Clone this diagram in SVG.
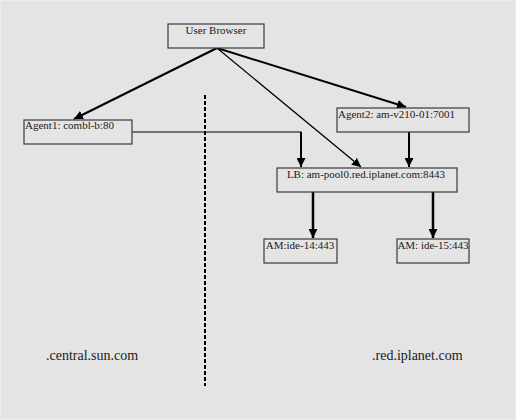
<svg xmlns="http://www.w3.org/2000/svg" width="516" height="420" viewBox="0 0 516 420">
<defs>
<style>
.box{fill:#e4e4e4;stroke:#3a3a3a;stroke-width:1.2}
.t{font-family:"Liberation Serif","Times New Roman",serif;font-size:11px;fill:#1a1a1a}
.lbl{font-family:"Liberation Serif","Times New Roman",serif;font-size:14px;fill:#1a1a1a}
.c{fill:none;stroke:#000}
</style>
<marker id="ah" viewBox="0 0 10 10" refX="10" refY="5" markerWidth="9" markerHeight="9" markerUnits="userSpaceOnUse" orient="auto">
<path d="M0,0 L10,5 L0,10 z" fill="#000"/>
</marker>
</defs>
<rect x="0" y="0" width="516" height="420" fill="#e4e4e4"/>
<rect x="0.5" y="0.5" width="515" height="419" fill="none" stroke="#ececec"/>

<line x1="205" y1="95" x2="205" y2="386" stroke="#000" stroke-width="2" stroke-dasharray="4,2"/>

<g id="connectors">
<line class="c" x1="217" y1="48" x2="74" y2="119" stroke-width="2" marker-end="url(#ah)"/>
<line class="c" x1="217" y1="48" x2="361" y2="167" stroke-width="1.3" marker-end="url(#ah)"/>
<line class="c" x1="217" y1="48" x2="406" y2="107" stroke-width="2" marker-end="url(#ah)"/>
<polyline class="c" points="132,132 301,132 301,136" stroke-width="1.1"/>
<line class="c" x1="301" y1="132" x2="301" y2="167" stroke-width="2" marker-end="url(#ah)"/>
<line class="c" x1="409" y1="132" x2="409" y2="167" stroke-width="2" marker-end="url(#ah)"/>
<line class="c" x1="313" y1="192" x2="313" y2="238" stroke-width="2.5" marker-end="url(#ah)"/>
<line class="c" x1="433" y1="192" x2="433" y2="238" stroke-width="2.5" marker-end="url(#ah)"/>
</g>

<g id="user-browser">
<rect class="box" x="168" y="24" width="96" height="24"/>
<text class="t" x="216" y="34" text-anchor="middle">User Browser</text>
</g>
<g id="agent1">
<rect class="box" x="24" y="120" width="108" height="24"/>
<text class="t" x="25" y="129">Agent1: combl-b:80</text>
</g>
<g id="agent2">
<rect class="box" x="337" y="108" width="132" height="24"/>
<text class="t" x="338" y="118">Agent2: am-v210-01:7001</text>
</g>
<g id="lb">
<rect class="box" x="277" y="168" width="180" height="24"/>
<text class="t" x="366" y="178" text-anchor="middle">LB: am-pool0.red.iplanet.com:8443</text>
</g>
<g id="am14">
<rect class="box" x="264" y="239" width="73" height="24"/>
<text class="t" x="300" y="249" text-anchor="middle">AM:ide-14:443</text>
</g>
<g id="am15">
<rect class="box" x="397" y="239" width="72" height="24"/>
<text class="t" x="433" y="249" text-anchor="middle">AM: ide-15:443</text>
</g>

<text class="lbl" x="46" y="360">.central.sun.com</text>
<text class="lbl" x="372" y="360">.red.iplanet.com</text>
</svg>
